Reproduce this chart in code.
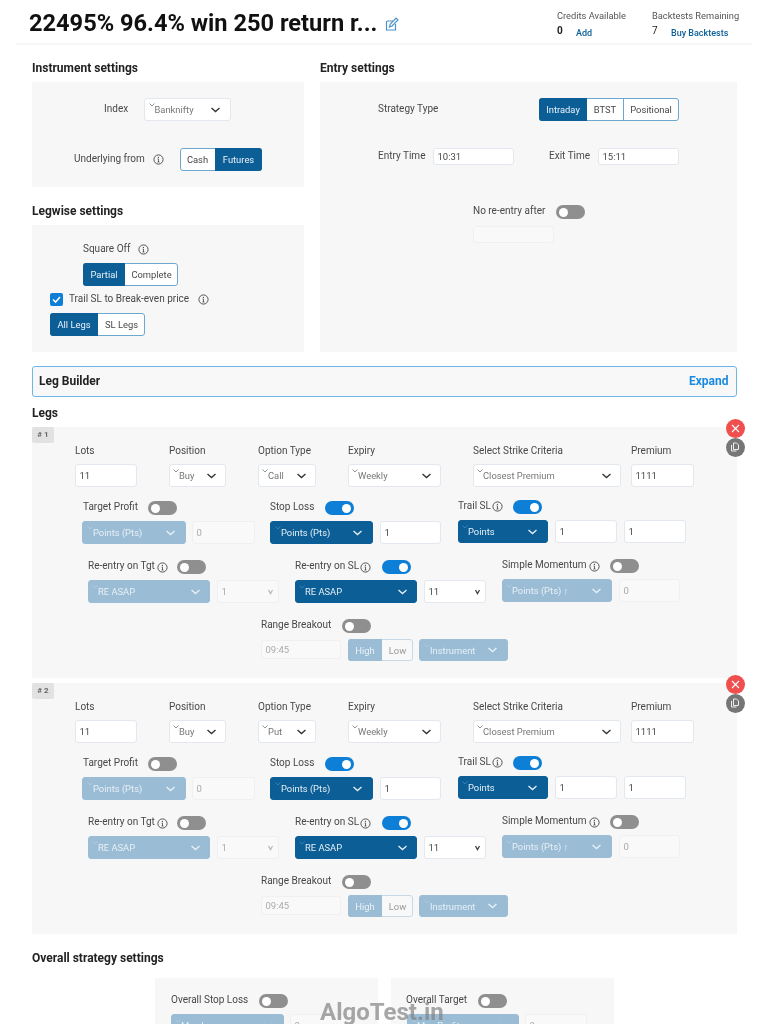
<!DOCTYPE html>
<html><head><meta charset="utf-8">
<script src="https://cdn.jsdelivr.net/npm/chart.js@4"></script>
<style>
html,body{margin:0;padding:0;background:#fff;width:768px;height:1024px;overflow:hidden;font-family:Roboto,sans-serif}
#p{position:relative;width:768px;height:1024px;overflow:hidden;filter:blur(.3px)}
#p div,#p span{position:absolute;box-sizing:border-box;white-space:nowrap}
.t{transform:translateY(-50%);line-height:1}
svg{position:absolute;overflow:visible}
</style></head><body><div id="p"></div>
<script>
const title="22495% 96.4% win 250 return r...";
const sectionLabels=["Instrument settings","Entry settings","Legwise settings","Legs","Overall strategy settings"];
const legOptionTypes=["Call","Put"];
const legTopOffsets=[0,256];
const DARK="#0b5e96",LIGHT="#9abcd5",PANEL="#f7f7f7",TXT="#484848",BORD="#e2e8ee",EDGE="#6ea8d0";
const p=document.getElementById('p');
function box(x,y,w,h,css){const d=document.createElement('div');d.style.cssText=`left:${x}px;top:${y}px;width:${w}px;height:${h}px;${css||''}`;p.appendChild(d);return d}
function T(x,y,s,size,color,weight,extra){const d=document.createElement('div');d.className='t';d.textContent=s;d.style.cssText=`left:${x}px;top:${y}px;font-size:${size||10}px;color:${color||TXT};font-weight:${weight||400};${extra||''}`;p.appendChild(d);return d}
function svg(x,y,w,h,inner){const n=document.createElementNS('http://www.w3.org/2000/svg','svg');n.setAttribute('width',w);n.setAttribute('height',h);n.style.left=x+'px';n.style.top=y+'px';n.innerHTML=inner;p.appendChild(n)}
function chev(cx,cy,color,w){w=w||4.5;svg(cx-w,cy-3,w*2,6,`<path d="M.5 1 L${w} 4.6 L${w*2-.5} 1" fill="none" stroke="${color}" stroke-width="1.3"/>`)}
function tick(x,y,c){svg(x,y,6,4,`<path d="M.5 .5L3 3L5.5 .5" fill="none" stroke="${c}" stroke-width=".7"/>`)}
function info(cx,cy){svg(cx-5.5,cy-5.5,11,11,`<circle cx="5.5" cy="5.5" r="4.6" fill="none" stroke="#444" stroke-width=".9"/><path d="M5.5 5v3M4.5 8h2M4.6 5h.9" stroke="#444" stroke-width=".8" fill="none"/><circle cx="5.4" cy="3.4" r=".6" fill="#444"/>`)}
function tog(x,y,on){box(x,y,28.5,14,`background:${on?'#0d7fd6':'#8f8f8f'};border-radius:7px`);box(on?x+17:x+3,y+2.5,9,9,'background:#fff;border-radius:50%')}
function input(x,y,w,h,s,dis){box(x,y,w,h,`background:${dis?'#f9f9f9':'#fff'};border:1px solid ${dis?'#f0f0f0':BORD};border-radius:3px`);if(s)T(x+4.5,y+h/2+.5,s,9.5,dis?'#aaa':TXT)}
function sel(x,y,w,h,s,tx,cx,kind){
 const bg=kind=='dark'?DARK:kind=='light'?LIGHT:'#fff';const fc=kind?(kind=='dark'?'#e6eff6':'#e8f0f6'):'#777';
 box(x,y,w,h,`background:${bg};border:1px solid ${kind?bg:BORD};border-radius:3px`);
 T(tx,y+h/2+.5,s,9.4,fc);tick(tx-6,y+5,kind?'rgba(255,255,255,.3)':'#666');chev(cx,y+h/2,kind?'#e8f0f6':'#333');}
function seg(x,y,h,parts,col,edge,offc){col=col||DARK;edge=edge||EDGE;const tot=parts.reduce((a,b)=>a+b[1],0);
 let cx=x;box(x,y,tot,h,`background:${offc?'#f8f8f8':'#fff'};border:1px solid ${edge};border-radius:3px`);
 parts.forEach((q,i)=>{if(q[2]){box(cx,y,q[1],h,`background:${col};border-radius:${i==0?'3px 0 0 3px':'0 3px 3px 0'}`)}
  else if(i>0&&!parts[i-1][2])box(cx,y,1,h,`background:${edge}`);
  T(cx+q[1]/2,y+h/2+.5,q[0],9.4,q[2]?'#eaf2f8':(offc||'#484848'),400,'transform:translate(-50%,-50%)');cx+=q[1]});}
// header
T(29,23.5,title,23.6,'#111',700);
svg(384,16,15,16,`<path d="M3 5h6M2.5 5v9h9V8" fill="none" stroke="#4c93c9" stroke-width="1.2"/><path d="M5.5 11l.8-3L12 2l2 2-6 6z" fill="none" stroke="#4c93c9" stroke-width="1.2"/>`);
T(557,16,"Credits Available",9.3,'#555');T(557,31,"0",10,'#222',700);T(576,32.5,"Add",9,DARK,500);
T(652,16,"Backtests Remaining",9.3,'#555');T(652,31,"7",10,'#222',400);T(671,32.5,"Buy Backtests",9,DARK,500);
box(16,43,736,1.5,'background:#f6f6f6');
// instrument etc
T(32,67.5,sectionLabels[0],12,'#222',700);T(320,67.5,sectionLabels[1],12,'#222',700);T(32,210.5,sectionLabels[2],12,'#222',700);
box(32,82,272,105,`background:${PANEL}`);box(32,225,272,127,`background:${PANEL}`);box(320,82,417,270,`background:${PANEL}`);
T(104,108.5,"Index");sel(144,98,87,23,"Banknifty",154.5,215);
T(74,159,"Underlying from");info(158,159.5);seg(180,148,23,[["Cash",35],["Futures",47,1]]);
T(378,108.5,"Strategy Type");seg(539,98,23,[["Intraday",48,1],["BTST",36],["Positional",56]]);
T(378,156,"Entry Time");input(433,148,81,17,"10:31");T(549,156,"Exit Time");input(598,148,81,17,"15:11");
T(473,211,"No re-entry after");tog(556,205,false);input(473,226,81,17,"",true);
T(83,249,"Square Off");info(143,249.5);seg(83,263,23,[["Partial",42,1],["Complete",53]]);
box(50,293,13,13,'background:#0d7fd6;border-radius:2px');svg(50,293,13,13,`<path d="M3 6.5l2.6 2.6L10 4" fill="none" stroke="#fff" stroke-width="1.5"/>`);
T(69,299,"Trail SL to Break-even price");info(203,299.5);seg(50,313,23,[["All Legs",48,1],["SL Legs",47]]);
// leg builder
box(32,366,705,31,'background:#f8f8f8;border:1.5px solid #6db6ea;border-radius:3px');
T(39,381,"Leg Builder",12,'#222',700);T(689,381,"Expand",12,'#1a8ae0',700);
T(32,412.5,sectionLabels[3],12,'#222',700);
legTopOffsets.forEach((o,i)=>{
 box(32,427+o,705,251,`background:${PANEL}`);
 box(32,427+o,22,16,'background:#e2e2e2;border-radius:2px');T(43,435+o,"# "+(i+1),8,'#666',700,'transform:translate(-50%,-50%)');
 box(725.5,418.5+o,19,19,'background:#ef4f4f;border-radius:50%');svg(730.5,423.5+o,9,9,`<path d="M1 1l7 7M8 1l-7 7" stroke="#fff" stroke-width="1.1"/>`);
 box(725.5,437.5+o,19,19,'background:#767676;border-radius:50%');svg(730,442+o,10,10,`<path d="M3.5 1h3l2 2v4.5h-5zM1.5 3v6h5" fill="none" stroke="#eee" stroke-width="1"/>`);
 T(75,450.5+o,"Lots");input(75,464+o,62,23,"11");
 T(169,450.5+o,"Position");sel(169,464+o,57,23,"Buy",179,211);
 T(258,450.5+o,"Option Type");sel(258,464+o,58,23,legOptionTypes[i],268,301);
 T(348,450.5+o,"Expiry");sel(348,464+o,93,23,"Weekly",358,426);
 T(473,450.5+o,"Select Strike Criteria");sel(473,464+o,148,23,"Closest Premium",483,606);
 T(631,450.5+o,"Premium");input(631,464+o,63,23,"1111");
 T(83,507+o,"Target Profit");tog(148,501+o,false);sel(82,521+o,104,23,"Points (Pts)",93,170,'light');input(192,521+o,63,23,"0",true);
 T(270,507+o,"Stop Loss");tog(325,501+o,true);sel(270,521+o,103,23,"Points (Pts)",281,357,'dark');input(380,521+o,61,23,"1");
 T(458,506+o,"Trail SL");info(497,506.5+o);tog(513,500+o,true);sel(458,520+o,90,23,"Points",468,532,'dark');input(555,520+o,62,23,"1");input(624,520+o,62,23,"1");
 T(88,566+o,"Re-entry on Tgt");info(162,567+o);tog(177,560+o,false);sel(88,580+o,122,23,"RE ASAP",98,195,'light');input(217,580+o,62,23,"1",true);chev(270,592+o,'#bbb',2.5);
 T(295,566+o,"Re-entry on SL");info(365,567+o);tog(382,560+o,true);sel(295,580+o,122,23,"RE ASAP",305,402,'dark');input(424,580+o,62,23,"11");chev(477,592+o,'#444',2.5);
 T(502,565+o,"Simple Momentum");info(594,566+o);tog(610,559+o,false);sel(502,579+o,110,23,"Points (Pts) \u2191",512,596,'light');input(619,579+o,61,23,"0",true);
 T(261,625+o,"Range Breakout");tog(342,619+o,false);input(261,640+o,80,19,"09:45",true);
 seg(348,639+o,22,[["High",34,1],["Low",31]],LIGHT,'#c5d9e8','#999');sel(419,639+o,89,22,"Instrument",430,492,'light');
});
// overall
T(32,957.5,sectionLabels[4],12,'#222',700);
box(155,978,223,60,`background:${PANEL}`);box(391,978,223,60,`background:${PANEL}`);
T(171,1000,"Overall Stop Loss");tog(259,994,false);sel(171,1014,113,23,"Max Loss",181,268,'light');input(290,1014,62,23,"0",true);
T(406,1000,"Overall Target");tog(478,994,false);sel(407,1014,112,23,"Max Profit",417,503,'light');input(525,1014,62,23,"0",true);
T(320,1012,"AlgoTest.in",24,'rgba(130,130,130,.7)',700);
</script></body></html>
